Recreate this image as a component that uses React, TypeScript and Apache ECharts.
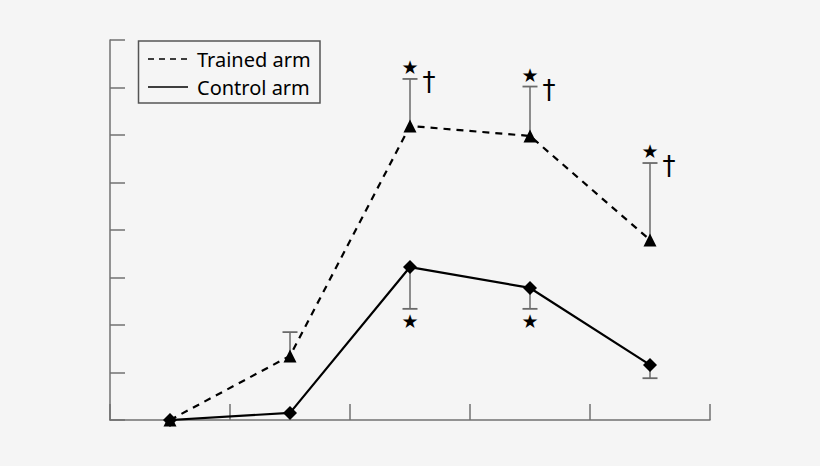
import React, { useEffect, useRef } from "react";
import * as echarts from "echarts";

const categories = ["T0", "T1", "T2", "T3", "T4"];
const trainedValues = [0, 1.35, 6.19, 5.98, 3.79];
const trainedErrTop = [null, 1.85, 7.18, 7.02, 5.41];
const controlValues = [0, 0.15, 3.22, 2.78, 1.16];
const controlErrBottom = [null, null, 2.34, 2.34, 0.88];
const trainedStars = [2, 3, 4];
const trainedDaggers = [2, 3, 4];
const controlStars = [2, 3];
const yTicks = { min: 0, max: 8, interval: 1 };
const legendLabels = ["Trained arm", "Control arm"];

const BG = "#f5f5f5";
const AXIS = "#707070";
const ERR = "#6a6a6a";

function errData(values: number[], ends: (number | null)[]) {
  const out: number[][] = [];
  values.forEach((v, i) => {
    const e = ends[i];
    if (e !== null && e !== undefined) out.push([i, v, e]);
  });
  return out;
}

export default function App() {
  const ref = useRef<HTMLDivElement>(null);
  useEffect(() => {
    if (!ref.current) return;
    const chart = echarts.init(ref.current, undefined, { renderer: "svg" });

    const errRender = (params: any, api: any) => {
      const x = api.value(0);
      const v = api.value(1);
      const e = api.value(2);
      const p1 = api.coord([x, v]);
      const p2 = api.coord([x, e]);
      const cap = 7.5;
      return {
        type: "group",
        children: [
          {
            type: "line",
            shape: { x1: p1[0], y1: p1[1], x2: p2[0], y2: p2[1] },
            style: { stroke: ERR, lineWidth: 1.5 },
          },
          {
            type: "line",
            shape: { x1: p2[0] - cap, y1: p2[1], x2: p2[0] + cap, y2: p2[1] },
            style: { stroke: ERR, lineWidth: 1.8 },
          },
        ],
      };
    };

    const textRender =
      (glyph: string, dx: number, dy: number, size: number) =>
      (params: any, api: any) => {
        const p = api.coord([api.value(0), api.value(1)]);
        return {
          type: "text",
          x: p[0] + dx,
          y: p[1] + dy,
          style: {
            text: glyph,
            fill: "#000",
            font: `${size}px "DejaVu Sans"`,
            align: "center",
            verticalAlign: "middle",
          },
        };
      };

    const starAboveData = trainedStars.map((i) => [i, trainedErrTop[i] as number]);
    const daggerData = trainedDaggers.map((i) => [i, trainedErrTop[i] as number]);
    const starBelowData = controlStars.map((i) => [i, controlErrBottom[i] as number]);

    chart.setOption({
      animation: false,
      backgroundColor: BG,
      grid: { left: 110, right: 110, top: 40, bottom: 46 },
      xAxis: {
        type: "category",
        data: categories,
        boundaryGap: true,
        axisLine: { show: true, lineStyle: { color: AXIS, width: 1.5 } },
        axisTick: { show: true, inside: true, length: 16, lineStyle: { color: AXIS, width: 1.5 } },
        axisLabel: { show: false },
        splitLine: { show: false },
      },
      yAxis: {
        type: "value",
        min: yTicks.min,
        max: yTicks.max,
        interval: yTicks.interval,
        axisLine: { show: true, lineStyle: { color: AXIS, width: 1.5 } },
        axisTick: { show: true, inside: true, length: 15, lineStyle: { color: AXIS, width: 1.5 } },
        axisLabel: { show: false },
        splitLine: { show: false },
      },
      series: [
        {
          type: "custom",
          name: "trainedErr",
          renderItem: errRender,
          data: errData(trainedValues, trainedErrTop),
          z: 1,
        },
        {
          type: "custom",
          name: "controlErr",
          renderItem: errRender,
          data: errData(controlValues, controlErrBottom),
          z: 1,
        },
        {
          type: "line",
          name: legendLabels[0],
          data: trainedValues,
          symbol: "triangle",
          symbolSize: 13,
          showAllSymbol: true,
          lineStyle: { color: "#000", width: 2.2, type: [7, 6] },
          itemStyle: { color: "#000" },
          z: 3,
        },
        {
          type: "line",
          name: legendLabels[1],
          data: controlValues,
          symbol: "diamond",
          symbolSize: 14,
          showAllSymbol: true,
          lineStyle: { color: "#000", width: 2.2, type: "solid" },
          itemStyle: { color: "#000" },
          z: 4,
        },
        {
          type: "custom",
          renderItem: textRender("★", 0, -12, 19),
          data: starAboveData,
          z: 5,
        },
        {
          type: "custom",
          renderItem: textRender("†", 19, 3, 26),
          data: daggerData,
          z: 5,
        },
        {
          type: "custom",
          renderItem: textRender("★", 0, 12, 19),
          data: starBelowData,
          z: 5,
        },
      ],
      graphic: [
        {
          type: "rect",
          shape: { x: 138.5, y: 41, width: 181.5, height: 62 },
          style: { fill: BG, stroke: "#555", lineWidth: 1.5 },
          z: 10,
        },
        {
          type: "line",
          shape: { x1: 148, y1: 59, x2: 188, y2: 59 },
          style: { stroke: "#000", lineWidth: 1.6, lineDash: [6, 5] },
          z: 11,
        },
        {
          type: "line",
          shape: { x1: 148, y1: 87, x2: 188, y2: 87 },
          style: { stroke: "#000", lineWidth: 1.6 },
          z: 11,
        },
        {
          type: "text",
          x: 197,
          y: 59,
          style: {
            text: legendLabels[0],
            fill: "#000",
            font: '20px "Noto Sans"',
            verticalAlign: "middle",
          },
          z: 11,
        },
        {
          type: "text",
          x: 197,
          y: 87,
          style: {
            text: legendLabels[1],
            fill: "#000",
            font: '20px "Noto Sans"',
            verticalAlign: "middle",
          },
          z: 11,
        },
      ],
    });
    return () => chart.dispose();
  }, []);
  return (
    <div
      ref={ref}
      style={{ position: "fixed", left: 0, top: 0, width: 820, height: 466 }}
    />
  );
}
